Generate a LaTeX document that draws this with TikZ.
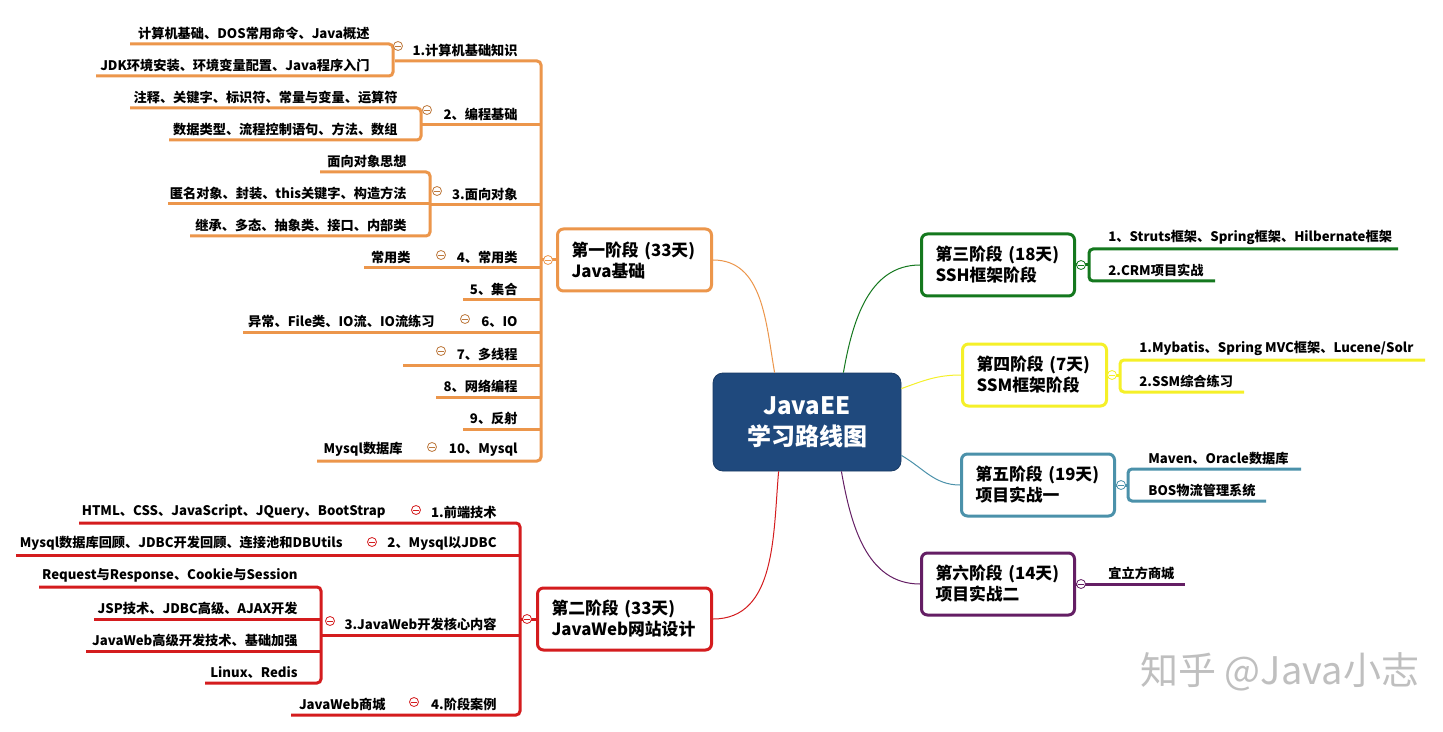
\documentclass[tikz,border=0pt]{standalone}
\usepackage{fontspec}
\setmainfont{Noto Sans CJK SC}
\usetikzlibrary{positioning}

\definecolor{cOrange}{RGB}{236,150,75}
\definecolor{cRed}{RGB}{212,28,30}
\definecolor{cGreen}{RGB}{20,120,30}
\definecolor{cYellow}{RGB}{245,240,40}
\definecolor{cTeal}{RGB}{75,145,170}
\definecolor{cPurple}{RGB}{100,30,100}
\definecolor{cNavy}{RGB}{31,73,125}

\tikzset{
  itemL/.style={anchor=south east,inner sep=1pt,font=\fontsize{6.6}{8}\selectfont\bfseries},
  itemR/.style={anchor=south west,inner sep=1pt,font=\fontsize{6.6}{8}\selectfont\bfseries},
  uline/.style={line width=1.5pt,rounded corners=2pt},
  stage/.style={draw=#1,line width=1.5pt,rounded corners=3pt,fill=white,anchor=west,
    align=left,inner xsep=7pt,inner ysep=0pt,minimum height=31pt,
    font=\fontsize{8.4}{10.5}\selectfont\bfseries},
  centre/.style={fill=cNavy,draw=cNavy!80!black,rounded corners=5pt,text=white,align=center,
    minimum width=94pt,minimum height=49pt,font=\fontsize{12}{15.5}\selectfont\bfseries},
  fold/.style={circle,draw=#1,line width=0.4pt,fill=white,inner sep=0pt,minimum size=4.5pt,
    path picture={\draw[#1,line width=0.4pt] ([xshift=-1.3pt]path picture bounding box.center)
      -- ([xshift=1.3pt]path picture bounding box.center);}},
  link/.style={#1,line width=0.5pt},
}

\begin{document}
\begin{tikzpicture}[x=0.5pt,y=-0.5pt]
  \useasboundingbox[fill=white] (0,0) rectangle (1443,732);

  % centre
  \node[centre] (ctr) at (807,422) {JavaEE\\学习路线图};

  % stages
  \node[stage=cOrange,text width=63pt] (s1) at (556,260) {第一阶段 (33天)\\Java基础};
  \node[stage=cRed,text width=73pt] (s2) at (536,619) {第二阶段 (33天)\\JavaWeb网站设计};
  \node[stage=cGreen,text width=62.5pt] (s3) at (920,265) {第三阶段 (18天)\\SSH框架阶段};
  \node[stage=cYellow,text width=58pt] (s4) at (961,375) {第四阶段 (7天)\\SSM框架阶段};
  \node[stage=cTeal,text width=62.5pt] (s5) at (960,485) {第五阶段 (19天)\\项目实战一};
  \node[stage=cPurple,text width=62.5pt] (s6) at (920,584) {第六阶段 (14天)\\项目实战二};

  % links from the centre
  \draw[link=cOrange] ([xshift=31pt]ctr.north west) to[out=100,in=0] (s1.east);
  \draw[link=cRed] ([xshift=33pt]ctr.south west) to[out=-95,in=0] (s2.east);
  \draw[link=cGreen] ([xshift=-29pt]ctr.north east) to[out=80,in=180] (s3.west);
  \draw[link=cYellow] ([yshift=-8pt]ctr.north east) to[out=20,in=180] (s4.west);
  \draw[link=cTeal] ([yshift=8pt]ctr.south east) to[out=-30,in=180] (s5.west);
  \draw[link=cPurple] ([xshift=-30pt]ctr.south east) to[out=-80,in=180] (s6.west);

  % ---- stage 1
  \draw[uline,cOrange] (395,61) -- (541,61) -- (541,461) -- (317,461);
  \draw[uline,cOrange] (s1.west) -- (541,260);
  \foreach \y/\x in {125/421,205/430,268/364,300/463,332/243,365/403,397/436,429/463}
    \draw[uline,cOrange] (\x,\y) -- (541,\y);
  \draw[uline,cOrange] (130,44) -- (393,44) -- (393,76) -- (96,76);
  \draw[uline,cOrange] (130,108) -- (421,108) -- (421,140) -- (169,140);
  \draw[uline,cOrange] (320,172) -- (430,172) -- (430,236) -- (190,236);
  \draw[uline,cOrange] (168,204) -- (430,204);

  \node[itemL] (a1) at (520,59) {1.计算机基础知识};
  \node[itemL] (a11) at (372,42) {计算机基础、DOS常用命令、Java概述};
  \node[itemL] (a12) at (372,74) {JDK环境安装、环境变量配置、Java程序入门};
  \node[itemL] (a2) at (520,123) {2、编程基础};
  \node[itemL] (a21) at (400,106) {注释、关键字、标识符、常量与变量、运算符};
  \node[itemL] (a22) at (400,138) {数据类型、流程控制语句、方法、数组};
  \node[itemL] (a3) at (520,203) {3.面向对象};
  \node[itemL] (a31) at (409,170) {面向对象思想};
  \node[itemL] (a32) at (409,202) {匿名对象、封装、this关键字、构造方法};
  \node[itemL] (a33) at (409,234) {继承、多态、抽象类、接口、内部类};
  \node[itemL] (a4) at (520,266) {4、常用类};
  \node[itemL] (a41) at (413,266) {常用类};
  \node[itemL] (a5) at (520,298) {5、集合};
  \node[itemL] (a6) at (520,330) {6、IO};
  \node[itemL] (a61) at (437,330) {异常、File类、IO流、IO流练习};
  \node[itemL] (a7) at (520,363) {7、多线程};
  \node[itemL] (a8) at (520,395) {8、网络编程};
  \node[itemL] (a9) at (520,427) {9、反射};
  \node[itemL] (a10) at (520,459) {10、Mysql};
  \node[itemL] (a101) at (405,459) {Mysql数据库};

  \node[fold=cOrange] at (548,260) {};
  \foreach \x/\y in {398/46,427/110,437/191,441/255,465/319,441/351,432/447}
    \node[fold=cOrange!80!black] at (\x,\y) {};

  % ---- stage 2
  \draw[uline,cRed] (79,523) -- (520,523) -- (520,715) -- (291,715);
  \draw[uline,cRed] (s2.west) -- (520,619);
  \draw[uline,cRed] (16,555) -- (520,555);
  \draw[uline,cRed] (321,635) -- (520,635);
  \draw[uline,cRed] (39,587) -- (321,587) -- (321,683) -- (205,683);
  \draw[uline,cRed] (94,619) -- (321,619);
  \draw[uline,cRed] (86,651) -- (321,651);

  \node[itemL] (b1) at (499,521) {1.前端技术};
  \node[itemL] (b11) at (388,521) {HTML、CSS、JavaScript、JQuery、BootStrap};
  \node[itemL] (b2) at (499,553) {2、Mysql以JDBC};
  \node[itemL] (b21) at (345,553) {Mysql数据库回顾、JDBC开发回顾、连接池和DBUtils};
  \node[itemL] (b3) at (499,633) {3.JavaWeb开发核心内容};
  \node[itemL] (b31) at (300,585) {Request与Response、Cookie与Session};
  \node[itemL] (b32) at (300,617) {JSP技术、JDBC高级、AJAX开发};
  \node[itemL] (b33) at (300,649) {JavaWeb高级开发技术、基础加强};
  \node[itemL] (b34) at (300,681) {Linux、Redis};
  \node[itemL] (b4) at (499,713) {4.阶段案例};
  \node[itemL] (b41) at (388,713) {JavaWeb商城};

  \node[fold=cRed] at (527,619) {};
  \foreach \x/\y in {416/510,372/542,330/621,414/702}
    \node[fold=cRed] at (\x,\y) {};

  % ---- stage 3
  \draw[uline,cGreen] (1398,249) -- (1089,249) -- (1089,281) -- (1215,281);
  \draw[uline,cGreen] (s3.east) -- (1089,265);
  \node[itemR] (c1) at (1106,247) {1、Struts框架、Spring框架、Hilbernate框架};
  \node[itemR] (c2) at (1106,279) {2.CRM项目实战};
  \node[fold=cGreen] at (1081,265) {};

  % ---- stage 4
  \draw[uline,cYellow] (1425,360) -- (1120,360) -- (1120,392) -- (1244,392);
  \draw[uline,cYellow] (s4.east) -- (1120,375);
  \node[itemR] (d1) at (1137,358) {1.Mybatis、Spring MVC框架、Lucene/Solr};
  \node[itemR] (d2) at (1137,390) {2.SSM综合练习};
  \node[fold=cYellow] at (1112,375) {};

  % ---- stage 5
  \draw[uline,cTeal] (1301,469) -- (1128,469) -- (1128,501) -- (1266,501);
  \draw[uline,cTeal] (s5.east) -- (1128,485);
  \node[itemR] (e1) at (1146,467) {Maven、Oracle数据库};
  \node[itemR] (e2) at (1146,499) {BOS物流管理系统};
  \node[fold=cTeal] at (1121,485) {};

  % ---- stage 6
  \draw[uline,cPurple] (s6.east) -- (1185,584);
  \node[itemR] (f1) at (1106,582) {宜立方商城};
  \node[fold=cPurple] at (1081,584) {};

  % watermark
  \node[anchor=west,text=black!25,font=\fontsize{19}{22}\selectfont,inner sep=0pt] (wm) at (1140,672) {知乎 @Java小志};
\end{tikzpicture}
\end{document}
